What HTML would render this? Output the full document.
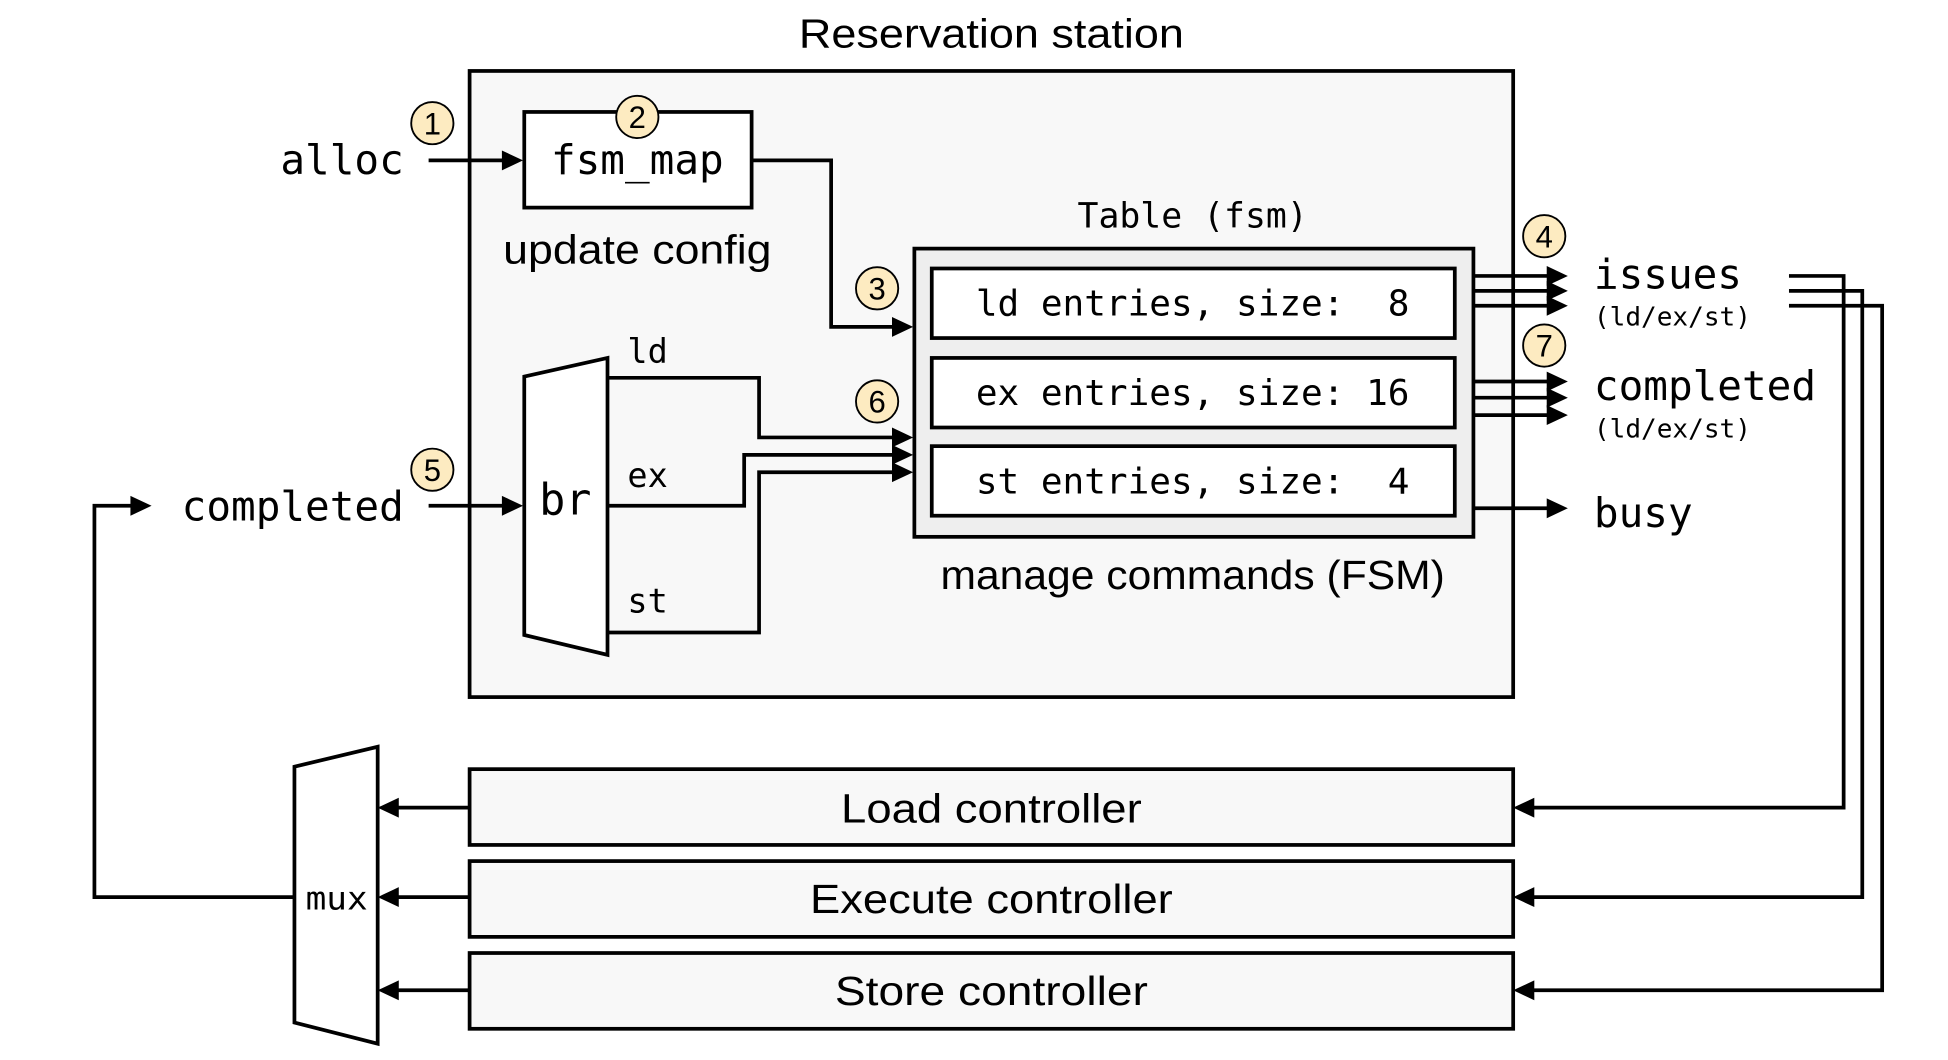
<!DOCTYPE html>
<html><head><meta charset="utf-8"><style>
html,body{margin:0;padding:0;background:#fff;}
svg{display:block;}
.m{font-family:"DejaVu Sans Mono","Liberation Mono",monospace;}
.s{font-family:"Liberation Sans",sans-serif;}
</style></head><body>
<svg width="1948" height="1060" viewBox="0 0 1568 853" xmlns="http://www.w3.org/2000/svg">
<g fill="none" stroke="#000" stroke-width="3">
<rect x="378" y="57" width="840" height="504" fill="#f8f8f8"/>
<rect x="422" y="90" width="183" height="77" fill="#fff"/>
<rect x="736" y="200" width="450" height="232" fill="#eee"/>
<rect x="750" y="216" width="421" height="56" fill="#fff"/>
<rect x="750" y="288" width="421" height="56" fill="#fff"/>
<rect x="750" y="359" width="421" height="56" fill="#fff"/>
<polygon points="422,303 489,288 489,527 422,511" fill="#fff"/>
<rect x="378" y="619" width="840" height="61" fill="#f8f8f8"/>
<rect x="378" y="693" width="840" height="61" fill="#f8f8f8"/>
<rect x="378" y="767" width="840" height="61" fill="#f8f8f8"/>
<polygon points="237,617 304,601 304,840 237,823" fill="#fff"/>
<polyline points="345,129 408,129"/>
<polyline points="345,407 408,407"/>
<polyline points="605,129 669,129 669,263 722,263"/>
<polyline points="489,304 611,304 611,352 722,352"/>
<polyline points="489,407 599,407 599,366 722,366"/>
<polyline points="489,509 611,509 611,380 722,380"/>
<polyline points="1186,222 1248,222"/>
<polyline points="1186,234 1248,234"/>
<polyline points="1186,246 1248,246"/>
<polyline points="1186,307 1248,307"/>
<polyline points="1186,320 1248,320"/>
<polyline points="1186,334 1248,334"/>
<polyline points="1186,409 1248,409"/>
<polyline points="1440,222 1484,222 1484,650 1232,650"/>
<polyline points="1440,234 1499,234 1499,722 1232,722"/>
<polyline points="1440,246 1515,246 1515,797 1232,797"/>
<polyline points="378,650 318,650"/>
<polyline points="378,722 318,722"/>
<polyline points="378,797 318,797"/>
<polyline points="237,722 76,722 76,407 108,407"/>
</g>
<g fill="#000">
<polygon points="421,129 404,121 404,137"/>
<polygon points="421,407 404,399 404,415"/>
<polygon points="735,263 718,255 718,271"/>
<polygon points="735,352 718,344 718,360"/>
<polygon points="735,366 718,358 718,374"/>
<polygon points="735,380 718,372 718,388"/>
<polygon points="1262,222 1245,214 1245,230"/>
<polygon points="1262,234 1245,226 1245,242"/>
<polygon points="1262,246 1245,238 1245,254"/>
<polygon points="1262,307 1245,299 1245,315"/>
<polygon points="1262,320 1245,312 1245,328"/>
<polygon points="1262,334 1245,326 1245,342"/>
<polygon points="1262,409 1245,401 1245,417"/>
<polygon points="1218,650 1235,642 1235,658"/>
<polygon points="1218,722 1235,714 1235,730"/>
<polygon points="1218,797 1235,789 1235,805"/>
<polygon points="304,650 321,642 321,658"/>
<polygon points="304,722 321,714 321,730"/>
<polygon points="304,797 321,789 321,805"/>
<polygon points="122,407 105,399 105,415"/>
</g>
<g fill="#fdebc1" stroke="#000" stroke-width="1.5">
<circle cx="348" cy="99" r="17"/>
<circle cx="513" cy="94" r="17"/>
<circle cx="706" cy="232" r="17"/>
<circle cx="706" cy="323" r="17"/>
<circle cx="348" cy="378" r="17"/>
<circle cx="1243" cy="190" r="17"/>
<circle cx="1243" cy="278" r="17"/>
</g>
<g class="s" font-size="25" text-anchor="middle" fill="#000">
<text x="348" y="108">1</text>
<text x="513" y="103">2</text>
<text x="706" y="241">3</text>
<text x="706" y="332">6</text>
<text x="348" y="387">5</text>
<text x="1243" y="199">4</text>
<text x="1243" y="287">7</text>
</g>
<g class="s" fill="#000" text-anchor="middle" font-size="33">
<text x="798" y="38" textLength="310" lengthAdjust="spacingAndGlyphs">Reservation station</text>
<text x="513" y="212" textLength="216" lengthAdjust="spacingAndGlyphs">update config</text>
<text x="960" y="474" textLength="406" lengthAdjust="spacingAndGlyphs">manage commands (FSM)</text>
<text x="798" y="662" textLength="242" lengthAdjust="spacingAndGlyphs">Load controller</text>
<text x="798" y="735" textLength="292" lengthAdjust="spacingAndGlyphs">Execute controller</text>
<text x="798" y="809" textLength="252" lengthAdjust="spacingAndGlyphs">Store controller</text>
</g>
<g class="m" fill="#000">
<text x="325" y="140" font-size="33" text-anchor="end">alloc</text>
<text x="325" y="419" font-size="33" text-anchor="end">completed</text>
<text x="513" y="140" font-size="33" text-anchor="middle">fsm_map</text>
<text x="960" y="183" font-size="28" text-anchor="middle">Table (fsm)</text>
<text x="960" y="254" font-size="29" text-anchor="middle" xml:space="preserve">ld entries, size:  8</text>
<text x="960" y="326" font-size="29" text-anchor="middle" xml:space="preserve">ex entries, size: 16</text>
<text x="960" y="397" font-size="29" text-anchor="middle" xml:space="preserve">st entries, size:  4</text>
<text x="455" y="414" font-size="35" text-anchor="middle">br</text>
<text x="505" y="292" font-size="27">ld</text>
<text x="505" y="392" font-size="27">ex</text>
<text x="505" y="493" font-size="27">st</text>
<text x="1283" y="232" font-size="33">issues</text>
<text x="1283" y="262" font-size="21">(ld/ex/st)</text>
<text x="1283" y="322" font-size="33">completed</text>
<text x="1283" y="352" font-size="21">(ld/ex/st)</text>
<text x="1283" y="424" font-size="33">busy</text>
<text x="271" y="732" font-size="26" text-anchor="middle" textLength="50" lengthAdjust="spacingAndGlyphs">mux</text>
</g>
</svg>
</body></html>
